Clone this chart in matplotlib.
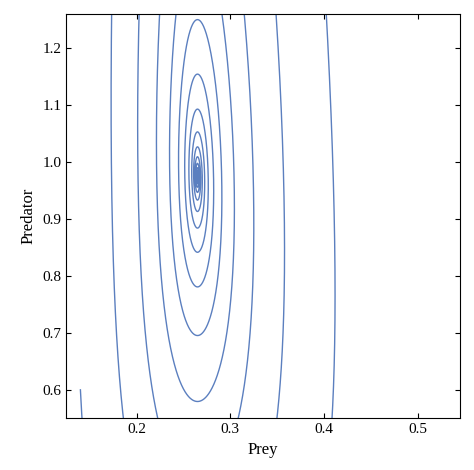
import matplotlib
matplotlib.use("Agg")
import matplotlib.pyplot as plt
import numpy as np

# model parameters (predator-prey with logistic prey), tuned to match the picture
r = 1.0
c = 0.741
K = 0.954
e = 25.0
x_eq = 0.265
d = e * x_eq
x0, y0 = 0.14, 0.60
t_end, dt = 80.0, 0.002

xticks = [0.2, 0.3, 0.4, 0.5]
yticks = [0.6, 0.7, 0.8, 0.9, 1.0, 1.1, 1.2]


def rhs(s):
    x, y = s
    return np.array([x * (r * (1 - x / K) - c * y), y * (-d + e * x)])


n = int(t_end / dt)
traj = np.empty((n, 2))
s = np.array([x0, y0])
for i in range(n):
    traj[i] = s
    k1 = rhs(s)
    k2 = rhs(s + dt / 2 * k1)
    k3 = rhs(s + dt / 2 * k2)
    k4 = rhs(s + dt * k3)
    s = s + dt / 6 * (k1 + 2 * k2 + 2 * k3 + k4)

plt.rcParams["font.family"] = ["Liberation Serif"]
fig, ax = plt.subplots(figsize=(4.74, 4.70), dpi=100)
ax.plot(traj[:, 0], traj[:, 1], color="#5b7fbf", lw=1.0)
ax.set_xlim(0.125, 0.545)
ax.set_ylim(0.55, 1.26)
ax.set_xticks(xticks)
ax.set_yticks(yticks)
ax.tick_params(direction="in", top=True, right=True, labelsize=11)
ax.set_xlabel("Prey", fontsize=12)
ax.set_ylabel("Predator", fontsize=12)
fig.subplots_adjust(left=0.14, right=0.97, bottom=0.11, top=0.97)
fig.savefig("out.png")
